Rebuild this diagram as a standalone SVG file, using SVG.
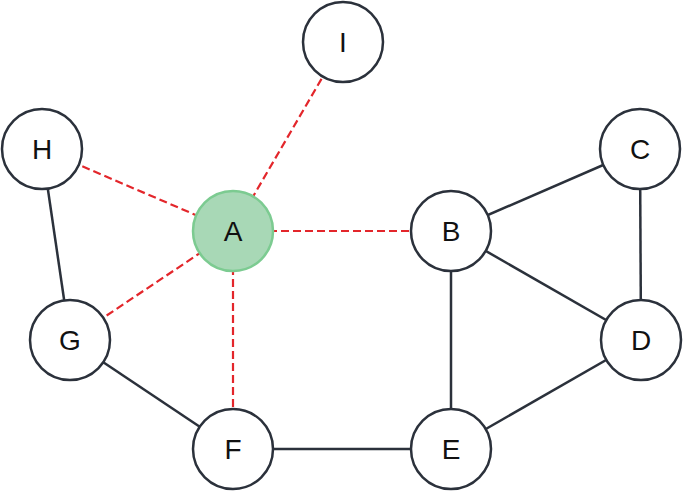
<svg xmlns="http://www.w3.org/2000/svg" width="685" height="493" viewBox="0 0 685 493">
<style>
.n{fill:#fff;stroke:#2b313b;stroke-width:2.5}
.a{fill:#a8d8b6;stroke:#7ccb91;stroke-width:2.5}
.t{font-family:"Liberation Sans",Arial,sans-serif;font-size:28px;fill:#111;text-anchor:middle;dominant-baseline:central}
.s{stroke:#2b313b;stroke-width:2.5;fill:none}
.d{stroke:#e3262b;stroke-width:2.2;stroke-dasharray:8 4;fill:none}
</style>
<rect width="685" height="493" fill="#fff"/>
<g id="connectors">
<line class="d" x1="233" y1="231" x2="343" y2="42"/>
<line class="d" x1="233" y1="231" x2="42" y2="149"/>
<line class="d" x1="233" y1="231" x2="451" y2="231"/>
<line class="d" x1="233" y1="231" x2="70" y2="340"/>
<line class="d" x1="233" y1="231" x2="233" y2="449"/>
<line class="s" x1="42" y1="149" x2="70" y2="340"/>
<line class="s" x1="70" y1="340" x2="233" y2="449"/>
<line class="s" x1="233" y1="449" x2="451" y2="449"/>
<line class="s" x1="451" y1="449" x2="451" y2="231"/>
<line class="s" x1="451" y1="449" x2="641" y2="340"/>
<line class="s" x1="451" y1="231" x2="641" y2="340"/>
<line class="s" x1="451" y1="231" x2="640" y2="149"/>
<line class="s" x1="640" y1="149" x2="641" y2="340"/>
</g>
<g id="I"><circle class="n" cx="343" cy="42" r="40"/><text class="t" x="343" y="42">I</text></g>
<g id="H"><circle class="n" cx="42" cy="149" r="40"/><text class="t" x="42" y="149">H</text></g>
<g id="C"><circle class="n" cx="640" cy="149" r="40"/><text class="t" x="640" y="149">C</text></g>
<g id="A"><circle class="a" cx="233" cy="231" r="40"/><text class="t" x="233" y="231">A</text></g>
<g id="B"><circle class="n" cx="451" cy="231" r="40"/><text class="t" x="451" y="231">B</text></g>
<g id="G"><circle class="n" cx="70" cy="340" r="40"/><text class="t" x="70" y="340">G</text></g>
<g id="D"><circle class="n" cx="641" cy="340" r="40"/><text class="t" x="641" y="340">D</text></g>
<g id="F"><circle class="n" cx="233" cy="449" r="40"/><text class="t" x="233" y="449">F</text></g>
<g id="E"><circle class="n" cx="451" cy="449" r="40"/><text class="t" x="451" y="449">E</text></g>
</svg>
